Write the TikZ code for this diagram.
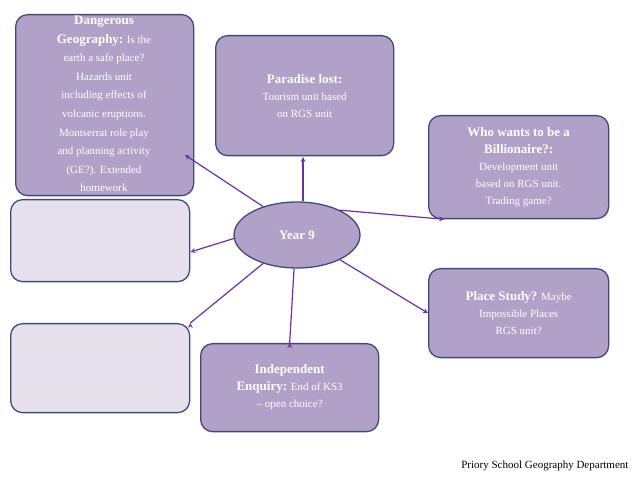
\documentclass[tikz,border=0pt]{standalone}
\usepackage{fontspec}
\setmainfont{Liberation Serif}
\usetikzlibrary{shapes.geometric}
\definecolor{boxfill}{HTML}{B1A0C7}
\definecolor{boxline}{HTML}{3C4B7E}
\definecolor{emptyfill}{HTML}{E7E1EE}
\definecolor{arrowc}{HTML}{7030A0}
\begin{document}
\begin{tikzpicture}[x=1pt,y=-1pt,
  card/.style={draw=boxline,line width=1.3pt,fill=boxfill,rounded corners=12pt,text=white,align=center,font=\fontsize{11}{17}\selectfont,inner sep=3pt},
  blank/.style={draw=boxline,line width=1.3pt,fill=emptyfill,rounded corners=12pt},
  ttl/.style={font=\fontsize{13}{17}\selectfont\bfseries},
  link/.style={draw=arrowc,line width=1.2pt,->,>=stealth}]
\useasboundingbox (0,0) rectangle (638,478);
\fill[white] (0,0) rectangle (638,478);
\node[card,minimum width=178pt,minimum height=181pt,anchor=north west] (dg) at (15,14) {};
\node[text=white,align=center,font=\fontsize{11}{18.6}\selectfont] (dgt) at (104,104) {{\fontsize{13}{17}\selectfont\bfseries Dangerous}\\{\fontsize{13}{17}\selectfont\bfseries Geography:} Is the\\earth a safe place?\\Hazards unit\\including effects of\\volcanic eruptions.\\Montserrat role play\\and planning activity\\(GE?). Extended\\homework};
\node[card,minimum width=178pt,minimum height=120pt,anchor=north west] (pl) at (215,35) {{\fontsize{13}{17}\selectfont\bfseries Paradise lost:}\\Tourism unit based\\on RGS unit};
\node[card,minimum width=180pt,minimum height=103pt,anchor=north west] (bi) at (428,115) {{\fontsize{13}{17}\selectfont\bfseries Who wants to be a}\\{\fontsize{13}{17}\selectfont\bfseries Billionaire?:}\\Development unit\\based on RGS unit.\\Trading game?};
\node[blank,minimum width=179pt,minimum height=82pt,anchor=north west] (e1) at (10,199) {};
\node[blank,minimum width=179pt,minimum height=89pt,anchor=north west] (e2) at (10,323) {};
\node[card,minimum width=180pt,minimum height=89pt,anchor=north west] (ps) at (428,268) {{\fontsize{13}{17}\selectfont\bfseries Place Study?} Maybe\\Impossible Places\\RGS unit?};
\node[card,minimum width=178pt,minimum height=88pt,anchor=north west] (ie) at (200,343) {{\fontsize{13}{17}\selectfont\bfseries Independent}\\{\fontsize{13}{17}\selectfont\bfseries Enquiry:} End of KS3\\-- open choice?};
\node[ellipse,draw=boxline,line width=1.3pt,fill=boxfill,minimum width=126pt,minimum height=66pt,text=white,font=\fontsize{13}{17}\selectfont\bfseries] (y9) at (297,235) {Year 9};
\draw[link] (y9.140) -- (185,155);
\draw[link] (y9.north) ++(6,0) -- (303,157);
\draw[link] (y9.30) -- (bi.215);
\draw[link] (y9.west) ++(2,3) -- (e1.east |- 0,252);
\draw[link] (y9.220) -- (e2.north east) ++(0,0);
\draw[link] (y9.265) -- (ie.north) ++(0,0);
\draw[link] (y9.330) -- (ps.west);
\node[anchor=east,font=\fontsize{11}{13}\selectfont] (ft) at (632,466) {Priory School Geography Department};
\end{tikzpicture}
\end{document}
